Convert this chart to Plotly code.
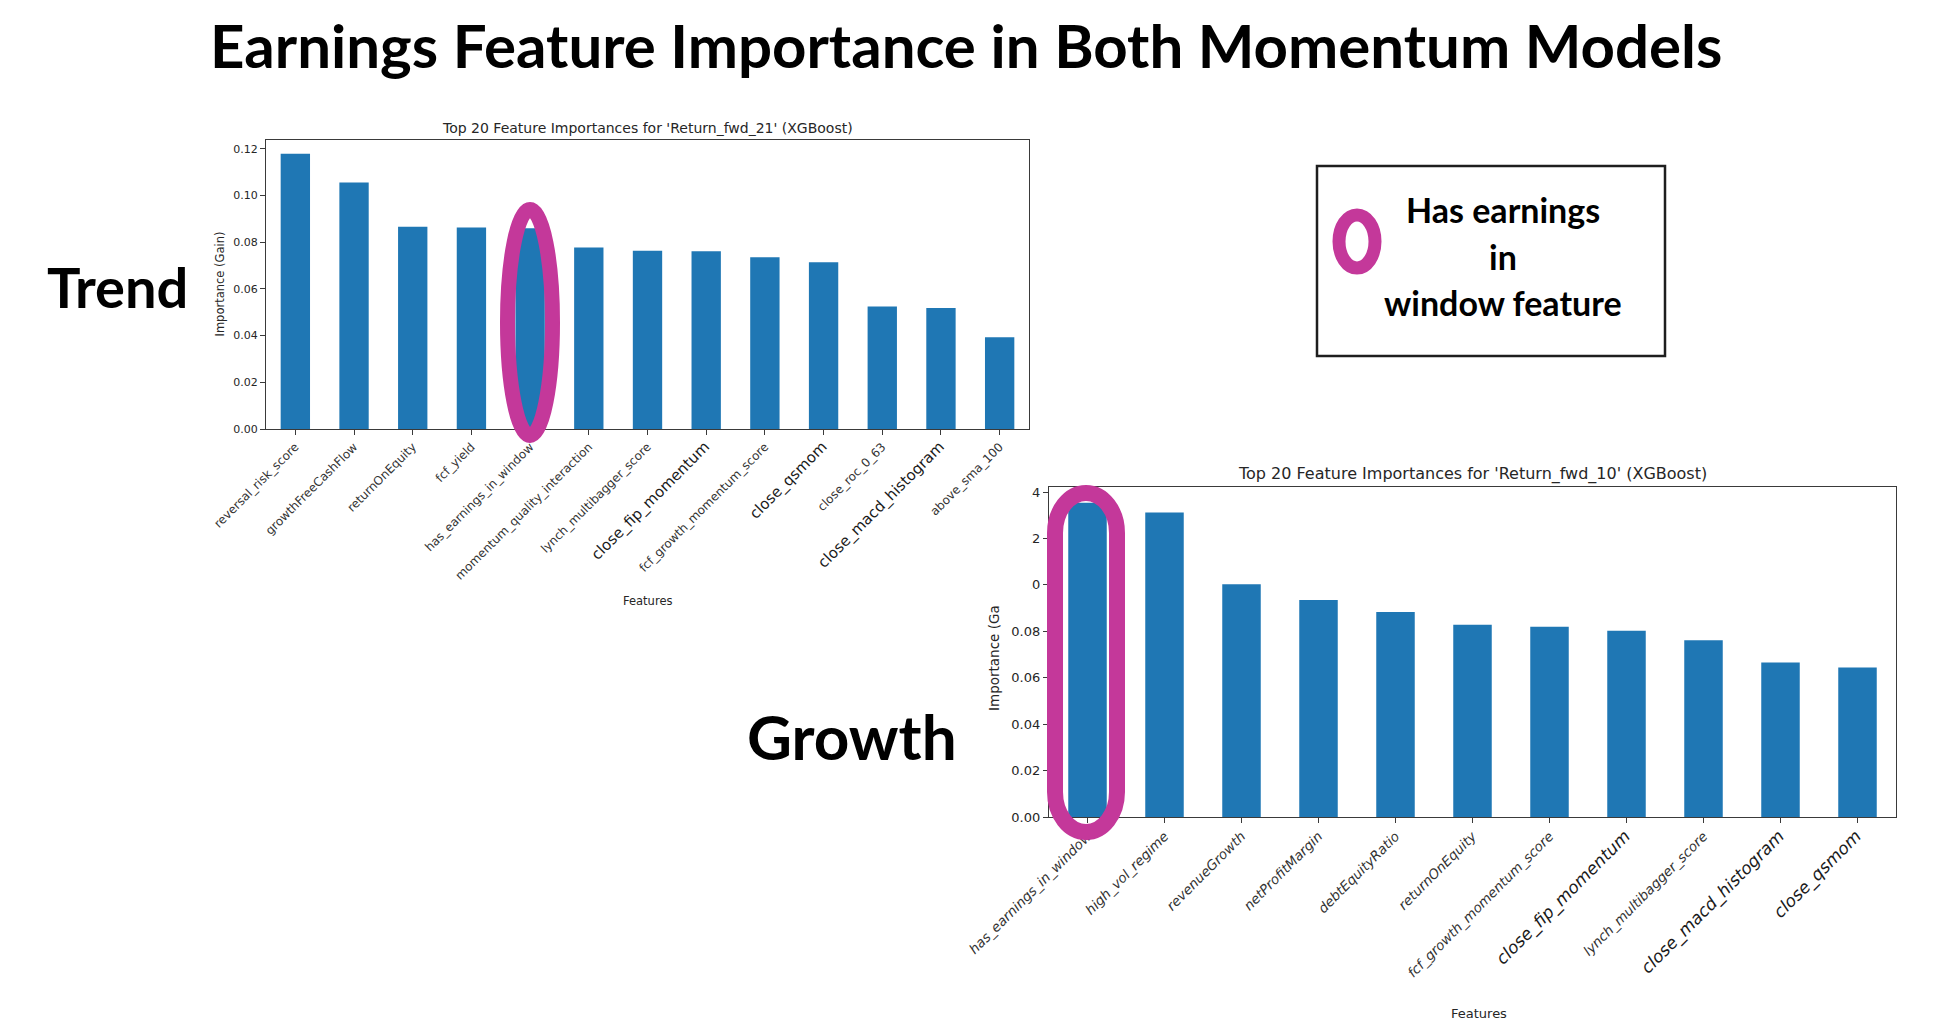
import plotly.graph_objects as go

W, H = 1950, 1024

# ---------------- data ----------------
trend_features = [
    "reversal_risk_score", "growthFreeCashFlow", "returnOnEquity", "fcf_yield",
    "has_earnings_in_window", "momentum_quality_interaction", "lynch_multibagger_score",
    "close_fip_momentum", "fcf_growth_momentum_score", "close_qsmom", "close_roc_0_63",
    "close_macd_histogram", "above_sma_100",
]
trend_importance = [0.1179, 0.1056, 0.0866, 0.0863, 0.0860, 0.0778, 0.0764,
                    0.0761, 0.0736, 0.0714, 0.0525, 0.0518, 0.0393]

growth_features = [
    "has_earnings_in_window", "high_vol_regime", "revenueGrowth", "netProfitMargin",
    "debtEquityRatio", "returnOnEquity", "fcf_growth_momentum_score", "close_fip_momentum",
    "lynch_multibagger_score", "close_macd_histogram", "close_qsmom",
]
growth_importance = [0.1354, 0.1312, 0.1003, 0.0935, 0.0883, 0.0828, 0.0820,
                     0.0802, 0.0762, 0.0666, 0.0644]

trend_yticks = [0.00, 0.02, 0.04, 0.06, 0.08, 0.10, 0.12]
growth_yticks = [0.00, 0.02, 0.04, 0.06, 0.08, 0.10, 0.12, 0.14]
emphasised = ["close_fip_momentum", "close_qsmom", "close_macd_histogram"]

main_title = "Earnings Feature Importance in Both Momentum Models"
trend_title = "Top 20 Feature Importances for 'Return_fwd_21' (XGBoost)"
growth_title = "Top 20 Feature Importances for 'Return_fwd_10' (XGBoost)"
legend_lines = ["Has earnings", "in", "window feature"]

# ---------------- styles ----------------
BLUE = "#1f77b4"
MAGENTA = "#c4389a"
INK = "#262626"
AX = "#3a3a3a"
MPL_FONT = "DejaVu Sans"
BIG_FONT = "Lato"


def px_x(x):
    return x / W


def px_y(y):
    return 1 - y / H


def tick_labels(names, big_size):
    out = []
    for n in names:
        if n in emphasised:
            out.append('<span style="font-size:%dpx;color:#1a1a1a">%s</span>' % (big_size, n))
        else:
            out.append(n)
    return out


fig = go.Figure()
fig.add_trace(go.Bar(x=trend_features, y=trend_importance, width=0.5,
                     marker=dict(color=BLUE, line=dict(width=0)),
                     xaxis="x", yaxis="y", hoverinfo="x+y"))
fig.add_trace(go.Bar(x=growth_features, y=growth_importance, width=0.5,
                     marker=dict(color=BLUE, line=dict(width=0)),
                     xaxis="x2", yaxis="y2", hoverinfo="x+y"))

common_axis = dict(showline=True, mirror=True, linecolor=AX, linewidth=1.2,
                   ticks="outside", ticklen=5, tickcolor=AX, tickwidth=1,
                   showgrid=False, zeroline=False, automargin=False)

# top (Trend) chart domain in pixels
T_L, T_R, T_T, T_B = 266, 1029, 140, 429
# bottom (Growth) chart domain in pixels
G_L, G_R, G_T, G_B = 1049, 1896, 487, 817

fig.update_layout(
    xaxis=dict(domain=[px_x(T_L), px_x(T_R)], anchor="y", type="category",
               range=[-0.5, len(trend_features) - 0.5],
               tickmode="array", tickvals=trend_features,
               ticktext=tick_labels(trend_features, 15),
               tickangle=-45, tickfont=dict(family=MPL_FONT, size=12, color="#333"),
               **common_axis),
    yaxis=dict(domain=[px_y(T_B), px_y(T_T)], anchor="x",
               range=[0, max(trend_importance) * 1.05],
               tickmode="array", tickvals=trend_yticks,
               ticktext=["%.2f" % v for v in trend_yticks],
               tickfont=dict(family=MPL_FONT, size=11, color=INK),
               **common_axis),
    xaxis2=dict(domain=[px_x(G_L), px_x(G_R)], anchor="y2", type="category",
                range=[-0.5, len(growth_features) - 0.5],
                tickmode="array", tickvals=growth_features,
                ticktext=tick_labels(growth_features, 17),
                tickangle=-45,
                tickfont=dict(family=MPL_FONT, size=13.5, color="#333", style="italic"),
                **common_axis),
    yaxis2=dict(domain=[px_y(G_B), px_y(G_T)], anchor="x2",
                range=[0, max(growth_importance) * 1.05],
                tickmode="array", tickvals=growth_yticks,
                ticktext=["%.2f" % v for v in growth_yticks],
                tickfont=dict(family=MPL_FONT, size=13, color=INK),
                **common_axis),
    width=W, height=H, margin=dict(l=0, r=0, t=0, b=0),
    paper_bgcolor="white", plot_bgcolor="white", showlegend=False,
)

ann = []
# Main title
ann.append(dict(text="<b>%s</b>" % main_title, x=px_x(966), y=px_y(45),
                font=dict(family=BIG_FONT, size=60, color="black")))
ann.append(dict(text="<b>Trend</b>", x=px_x(117), y=px_y(286),
                font=dict(family=BIG_FONT, size=56, color="black")))
ann.append(dict(text="<b>Growth</b>", x=px_x(852), y=px_y(736),
                font=dict(family=BIG_FONT, size=62, color="black")))
# legend box text
for txt, yy in zip(legend_lines, [209, 256, 302]):
    ann.append(dict(text="<b>%s</b>" % txt, x=px_x(1503), y=px_y(yy),
                    font=dict(family=BIG_FONT, size=34, color="black")))
# chart titles & axis titles
ann.append(dict(text=trend_title, x=px_x((T_L + T_R) / 2), y=px_y(128),
                font=dict(family=MPL_FONT, size=14, color=INK)))
ann.append(dict(text=growth_title, x=px_x((G_L + G_R) / 2), y=px_y(474),
                font=dict(family=MPL_FONT, size=16, color=INK)))
ann.append(dict(text="Features", x=px_x((T_L + T_R) / 2), y=px_y(601),
                font=dict(family=MPL_FONT, size=11.5, color=INK)))
ann.append(dict(text="Features", x=px_x((G_L + G_R) / 2 + 6), y=px_y(1013),
                font=dict(family=MPL_FONT, size=13, color=INK)))
ann.append(dict(text="Importance (Gain)", x=px_x(219), y=px_y((T_T + T_B) / 2),
                textangle=-90, font=dict(family=MPL_FONT, size=11.5, color=INK)))
ann.append(dict(text="Importance (Ga", x=px_x(994), y=px_y(713), yanchor="bottom",
                textangle=-90, font=dict(family=MPL_FONT, size=13.5, color=INK)))

for a in ann:
    a.setdefault("xref", "paper")
    a.setdefault("yref", "paper")
    a.setdefault("showarrow", False)
    a.setdefault("xanchor", "center")
    a.setdefault("yanchor", "middle")
fig.update_layout(annotations=ann)

# ---------------- shapes ----------------
shapes = []
# white patch where the Growth screenshot is covered by the Trend screenshot
shapes.append(dict(type="rect", xref="paper", yref="paper",
                   x0=px_x(1005), x1=px_x(1031), y0=px_y(611), y1=px_y(470),
                   fillcolor="white", line=dict(width=0), layer="above"))
# ellipse around has_earnings_in_window in Trend chart
shapes.append(dict(type="circle", xref="paper", yref="paper",
                   x0=px_x(507.5), x1=px_x(552.5), y0=px_y(435.5), y1=px_y(209.5),
                   line=dict(color=MAGENTA, width=15), layer="above"))
# stadium around has_earnings_in_window in Growth chart
k = 0.5523
xl, xr, yt, yb = 1055, 1117, 493, 832
cx = (xl + xr) / 2
rx = (xr - xl) / 2
ry = 40
pts = [
    ("M", [(xl, yt + ry)]),
    ("C", [(xl, yt + ry - k * ry), (cx - k * rx, yt), (cx, yt)]),
    ("C", [(cx + k * rx, yt), (xr, yt + ry - k * ry), (xr, yt + ry)]),
    ("L", [(xr, yb - ry)]),
    ("C", [(xr, yb - ry + k * ry), (cx + k * rx, yb), (cx, yb)]),
    ("C", [(cx - k * rx, yb), (xl, yb - ry + k * ry), (xl, yb - ry)]),
]
path = ""
for cmd, ps in pts:
    path += cmd + " ".join("%.5f,%.5f" % (px_x(a), px_y(b)) for a, b in ps) + " "
path += "Z"
shapes.append(dict(type="path", xref="paper", yref="paper", path=path,
                   line=dict(color=MAGENTA, width=16), layer="above"))
# legend box
shapes.append(dict(type="rect", xref="paper", yref="paper",
                   x0=px_x(1317), x1=px_x(1665), y0=px_y(356), y1=px_y(166),
                   line=dict(color="#1e1e1e", width=2.5), fillcolor="rgba(0,0,0,0)"))
shapes.append(dict(type="circle", xref="paper", yref="paper",
                   x0=px_x(1339), x1=px_x(1375), y0=px_y(268), y1=px_y(215),
                   line=dict(color=MAGENTA, width=13)))
fig.update_layout(shapes=shapes)

fig.write_html("out.html", config={"displayModeBar": False},
               post_script="document.body.style.margin='0';document.body.style.overflow='hidden';")
